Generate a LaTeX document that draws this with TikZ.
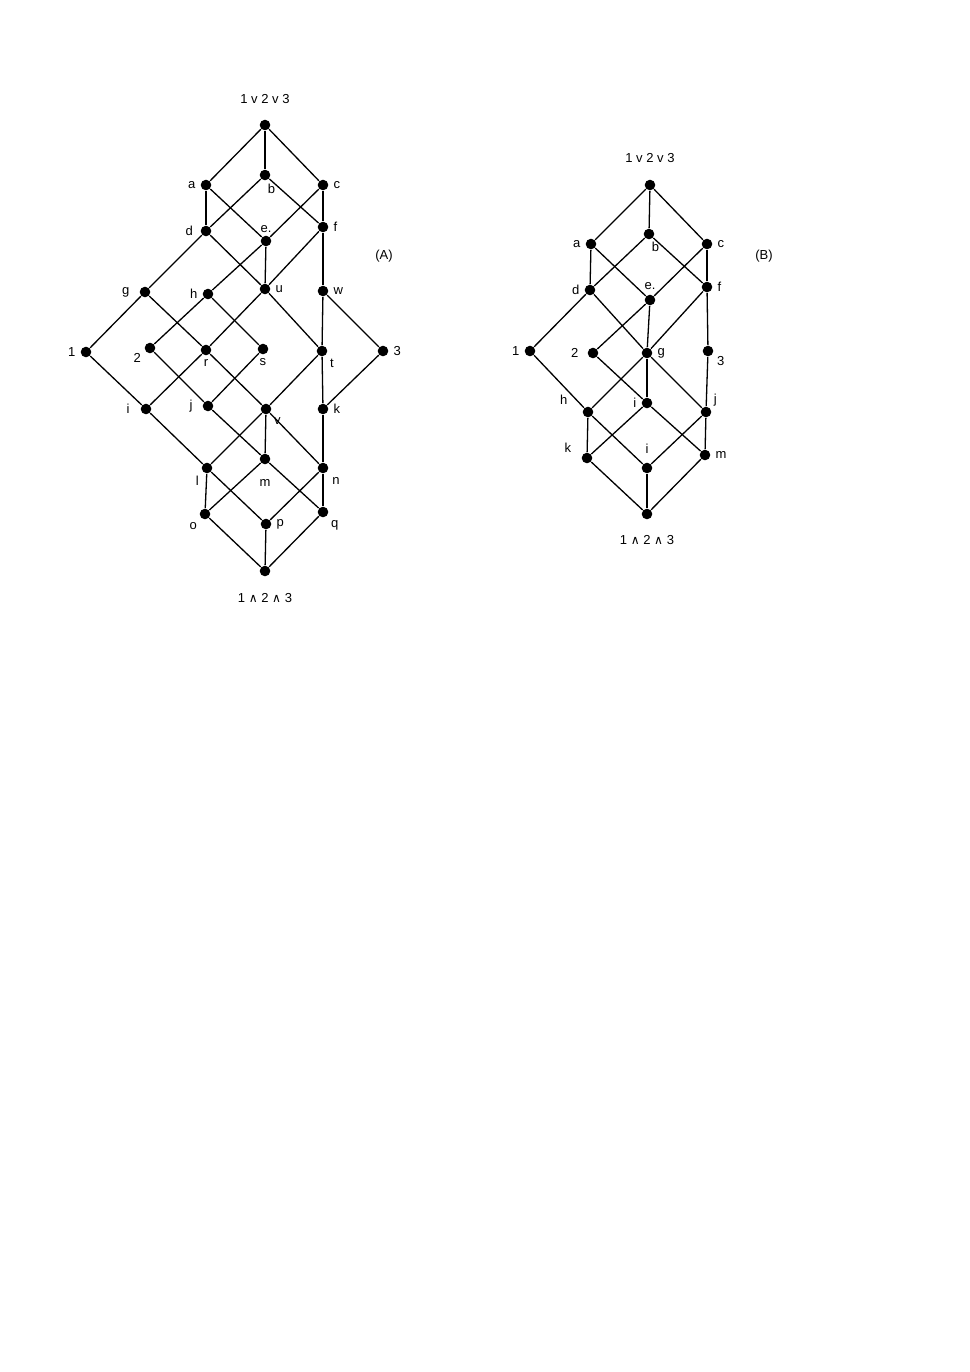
\documentclass[tikz,border=0pt]{standalone}
\usepackage{fontspec}
\setmainfont{Liberation Sans}
\newfontfamily\wedgefont{DejaVu Sans}
\usepackage{tikz}
\usetikzlibrary{positioning}

\newcommand{\meetsym}{{\wedgefont\fontsize{7.5}{8}\selectfont ∧}}
\tikzset{
    dot/.style={circle, fill, inner sep=0pt, minimum size=6.5pt},
    every label/.style={inner sep=1pt},
    label distance=1.5pt
}

\begin{document}
\begin{tikzpicture}[x=0.6143pt, y=-0.6143pt, line width=0.8pt, font=\fontsize{8}{10}\selectfont]
        \useasboundingbox (0,0) rectangle (969,1372);

        % lattice (A)
        \node[dot, label={[label distance=8pt]above:1 v 2 v 3}] (Atop) at (265,125) {};
        \node[dot, label=left:a] (Aa) at (206,185) {};
        \node[dot, label={[label distance=0.5pt]-85:b}] (Ab) at (265,175) {};
        \node[dot, label=right:c] (Ac) at (323,185) {};
        \node[dot, label={[label distance=3pt]left:d}] (Ad) at (206,231) {};
        \node[dot, label={[label distance=0pt]above:e.}] (Ae) at (266,241) {};
        \node[dot, label=right:f] (Af) at (323,227) {};
        \node[dot, label={[label distance=4.5pt]left:g}] (Ag) at (145,292) {};
        \node[dot, label=left:h] (Ah) at (208,294) {};
        \node[dot, label=right:u] (Au) at (265,289) {};
        \node[dot, label=right:w] (Aw) at (323,291) {};
        \node[dot, label=left:1] (A1) at (86,352) {};
        \node[dot, label={[label distance=1pt]-155:2}] (A2) at (150,348) {};
        \node[dot, label={[label distance=0.5pt]below:r}] (Ar) at (206,350) {};
        \node[dot, label={[label distance=0.5pt]below:s}] (As) at (263,349) {};
        \node[dot, label=below right:t] (At) at (322,351) {};
        \node[dot, label=right:3] (A3) at (383,351) {};
        \node[dot, label={[label distance=5pt]left:i}] (Ai) at (146,409) {};
        \node[dot, label={[label distance=4.5pt]left:j}] (Aj) at (208,406) {};
        \node[dot, label=below right:v] (Av) at (266,409) {};
        \node[dot, label=right:k] (Ak) at (323,409) {};
        \node[dot, label={[label distance=7.5pt]below:m}] (Am) at (265,459) {};
        \node[dot, label=below left:l] (Al) at (207,468) {};
        \node[dot, label={[label distance=2.5pt]below right:n}] (An) at (323,468) {};
        \node[dot, label=below left:o] (Ao) at (205,514) {};
        \node[dot, label=right:p] (Ap) at (266,524) {};
        \node[dot, label=below right:q] (Aq) at (323,512) {};
        \node[dot, label={[label distance=9pt]below:1 \meetsym{} 2 \meetsym{} 3}] (Abot) at (265,571) {};
        \node (Atag) at (384,256) {(A)};

        \path[draw]
        (Atop) edge (Aa) (Atop) edge (Ab) (Atop) edge (Ac)
        (Aa) edge (Ad) (Aa) edge (Ae)
        (Ab) edge (Ad) (Ab) edge (Af)
        (Ac) edge (Ae) (Ac) edge (Af)
        (Ad) edge (Ag) (Ad) edge (Au)
        (Ae) edge (Ah) (Ae) edge (Au)
        (Af) edge (Au) (Af) edge (Aw)
        (Ag) edge (A1) (Ag) edge (Ar)
        (Ah) edge (A2) (Ah) edge (As)
        (Au) edge (Ar) (Au) edge (At)
        (Aw) edge (At) (Aw) edge (A3)
        (A1) edge (Ai)
        (A2) edge (Aj)
        (Ar) edge (Ai) (Ar) edge (Av)
        (As) edge (Aj)
        (At) edge (Av) (At) edge (Ak)
        (A3) edge (Ak)
        (Ai) edge (Al)
        (Aj) edge (Am)
        (Av) edge (Al) (Av) edge (Am) (Av) edge (An)
        (Ak) edge (An)
        (Al) edge (Ao) (Al) edge (Ap)
        (Am) edge (Ao) (Am) edge (Aq)
        (An) edge (Ap) (An) edge (Aq)
        (Ao) edge (Abot) (Ap) edge (Abot) (Aq) edge (Abot)
        ;

        % lattice (B)
        \node[dot, label={[label distance=8.5pt]above:1 v 2 v 3}] (Btop) at (650,185) {};
        \node[dot, label=left:a] (Ba) at (591,244) {};
        \node[dot, label={[label distance=0pt]-85:b}] (Bb) at (649,234) {};
        \node[dot, label=right:c] (Bc) at (707,244) {};
        \node[dot, label=left:d] (Bd) at (590,290) {};
        \node[dot, label=above:e.] (Be) at (650,300) {};
        \node[dot, label=right:f] (Bf) at (707,287) {};
        \node[dot, label=left:1] (B1) at (530,351) {};
        \node[dot, label={[label distance=4pt]left:2}] (B2) at (593,353) {};
        \node[dot, label=right:g] (Bg) at (647,353) {};
        \node[dot, label={[label distance=1pt]-25:3}] (B3) at (708,351) {};
        \node[dot, label={[label distance=8pt]165:h}] (Bh) at (588,412) {};
        \node[dot, label=left:i] (Biu) at (647,403) {};
        \node[dot, label={[label distance=0.5pt]35:j}] (Bj) at (706,412) {};
        \node[dot, label={[label distance=5pt]165:k}] (Bk) at (587,458) {};
        \node[dot, label={[label distance=4pt]above:i}] (Bil) at (647,468) {};
        \node[dot, label=right:m] (Bm) at (705,455) {};
        \node[dot, label={[label distance=8pt]below:1 \meetsym{} 2 \meetsym{} 3}] (Bbot) at (647,514) {};
        \node (Btag) at (764,256) {(B)};

        \path[draw]
        (Btop) edge (Ba) (Btop) edge (Bb) (Btop) edge (Bc)
        (Ba) edge (Bd) (Ba) edge (Be)
        (Bb) edge (Bd) (Bb) edge (Bf)
        (Bc) edge (Be) (Bc) edge (Bf)
        (Bd) edge (B1) (Bd) edge (Bg)
        (Be) edge (B2) (Be) edge (Bg)
        (Bf) edge (Bg) (Bf) edge (B3)
        (B1) edge (Bh)
        (B2) edge (Biu)
        (Bg) edge (Bh) (Bg) edge (Biu) (Bg) edge (Bj)
        (B3) edge (Bj)
        (Bh) edge (Bk) (Bh) edge (Bil)
        (Biu) edge (Bk) (Biu) edge (Bm)
        (Bj) edge (Bil) (Bj) edge (Bm)
        (Bk) edge (Bbot) (Bil) edge (Bbot) (Bm) edge (Bbot)
        ;
    \end{tikzpicture}
\end{document}
